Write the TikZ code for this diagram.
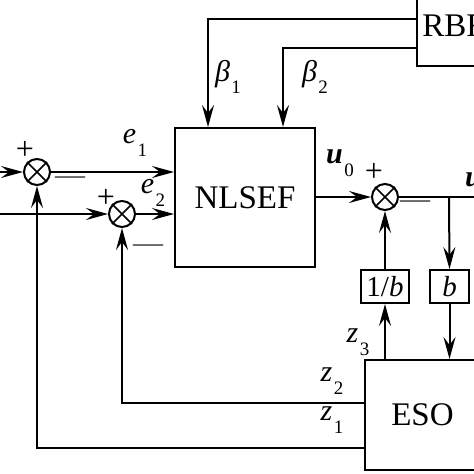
\documentclass[tikz,border=0pt]{standalone}
\usepackage{fontspec}
\setmainfont{Liberation Serif}
\usetikzlibrary{arrows.meta}
\newcommand\sublab[2]{\textit{#1}\kern1.5pt\raisebox{-0.42em}{\fontsize{19}{19}\selectfont\upshape #2}}
\begin{document}
\begin{tikzpicture}[x=1pt,y=-1pt, line width=2pt,
  arr/.style={-{Stealth[length=22pt,width=12pt,inset=8pt]}},
  blk/.style={draw, rectangle, inner sep=0pt},
  sumj/.style={draw, circle, minimum size=26pt, inner sep=0pt},
  big/.style={font=\fontsize{33}{36}\selectfont},
  small/.style={font=\fontsize{29}{30}\selectfont},
  lab/.style={font=\fontsize{30}{32}\selectfont, inner sep=0pt},
  plus/.style={font=\fontsize{32}{34}\selectfont, inner sep=0pt},
  minus/.style={font=\fontsize{30}{32}\selectfont, inner sep=0pt, text=black!75}]
\useasboundingbox (0,0) rectangle (474,474);
\clip (0,0) rectangle (474,474);
% blocks
\node[sumj] (s1) at (37,172) {};
\node[sumj] (s2) at (122,214) {};
\node[sumj] (s3) at (385,197) {};
\node[blk, minimum width=140pt, minimum height=139pt, big] (nl) at (245,197.5) {NLSEF};
\node[blk, minimum width=73pt, minimum height=80pt, big, text depth=0pt] (rbf) at (453.5,26) {RBF};
\node[blk, minimum width=115pt, minimum height=110pt, big] (eso) at (422.5,415) {ESO};
\node[blk, minimum width=48pt, minimum height=33pt, small] (ib) at (385,286.5) {1/\textit{b}};
\node[blk, minimum width=39pt, minimum height=33pt, small] (bb) at (449.5,286.5) {\textit{b}};
% crosses
\foreach \s in {s1,s2,s3}{
  \draw[line width=1.6pt] (\s.north west) -- (\s.south east) (\s.north east) -- (\s.south west);
}
% coordinates
\coordinate (in1) at (0,172);
\coordinate (in2) at (0,214);
\coordinate (t1) at (208,19);
\coordinate (t2) at (283,48);
\coordinate (out) at (490,197);
\coordinate (br) at (449,197);
\coordinate (z2c) at (122,403);
\coordinate (z1c) at (37,448);
% connectors
\draw[arr] (in1) -- (s1.west);
\draw[arr] (in2) -- (s2.west);
\draw[arr] (s1.east) -- (s1.east -| nl.west);
\draw[arr] (s2.east) -- (s2.east -| nl.west);
\draw[arr] (t1 -| rbf.west) -- (t1) -- (t1 |- nl.north);
\draw[arr] (t2 -| rbf.west) -- (t2) -- (t2 |- nl.north);
\draw[arr] (nl.east |- s3) -- (s3.west);
\draw (s3.east) -- (out);
\draw[arr] (br) -- (bb.north);
\draw[arr] (bb.south) -- (bb.south |- eso.north);
\draw[arr] (ib.south |- eso.north) -- (ib.south);
\draw[arr] (ib.north) -- (s3.south);
\draw[arr] (z2c -| eso.west) -- (z2c) -- (s2.south);
\draw[arr] (z1c -| eso.west) -- (z1c) -- (s1.south);
% labels
\node[lab] (le1) at (135,143) {\sublab{e}{1}};
\node[lab] (le2) at (153,193) {\sublab{e}{2}};
\node[lab] (lb1) at (228,77) {\sublab{β}{1}};
\node[lab] (lb2) at (315,77) {\sublab{β}{2}};
\node[lab] (lu0) at (340,163) {\sublab{\bfseries u}{0}};
\node[lab, anchor=west] (lu) at (464,180) {\textit{\bfseries u}};
\node[lab] (lz3) at (358,342) {\sublab{z}{3}};
\node[lab] (lz2) at (332,381) {\sublab{z}{2}};
\node[lab] (lz1) at (332,420) {\sublab{z}{1}};
% signs
\node[plus] (p1) at (25,150) {+};
\node[minus] (m1) at (70,181) {—};
\node[plus] (p2) at (106,198) {+};
\node[minus] (m2) at (148,249) {—};
\node[plus] (p3) at (374,172) {+};
\node[minus] (m3) at (415,205) {—};
\end{tikzpicture}
\end{document}
